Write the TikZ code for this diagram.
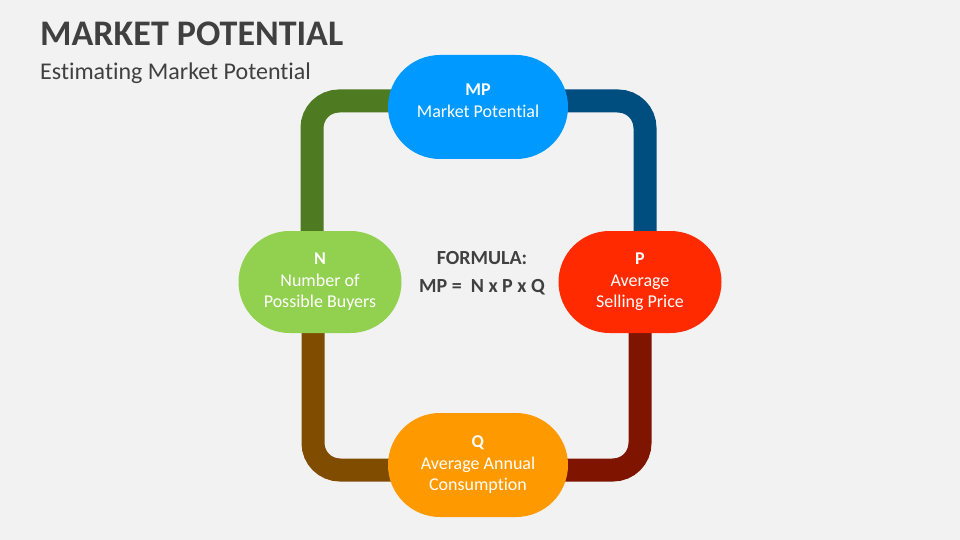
\documentclass[tikz,border=0pt]{standalone}
\usepackage{fontspec}
\setmainfont{Carlito}[Ligatures=NoCommon]
\usetikzlibrary{positioning,backgrounds,shapes.misc}
\definecolor{pagebg}{HTML}{F2F2F2}
\definecolor{textgray}{HTML}{404040}
\definecolor{mpblue}{HTML}{0099FF}
\definecolor{pred}{HTML}{FF2A00}
\definecolor{qorange}{HTML}{FF9900}
\definecolor{ngreen}{HTML}{92D050}
\definecolor{greenline}{HTML}{4E7A21}
\definecolor{blueline}{HTML}{004E80}
\definecolor{redline}{HTML}{7F1400}
\definecolor{brownline}{HTML}{7F4C00}
\tikzset{
    pill/.style = {rounded rectangle, inner sep=0pt,
        minimum height=102pt,
        minimum width=163pt, align=center, text=white,
        font=\fontsize{18}{21.5}\selectfont},
    bigpill/.style = {pill, minimum height=104pt, minimum width=180pt},
    loopline/.style = {line width=23pt, rounded corners=27pt},
    heading/.style = {anchor=base west, inner sep=0pt, text=textgray}
}

\begin{document}
\begin{tikzpicture}[x=1pt,y=-1pt]
        \useasboundingbox (0,0) rectangle (960,540);
        \node [heading,font=\fontsize{36}{40}\selectfont\bfseries] (title) at (40,46) {MARKET POTENTIAL};
        \node [heading,font=\fontsize{24}{28}\selectfont] (subtitle) at (40,80) {Estimating Market Potential};
        \node [bigpill,fill=mpblue,text depth=13pt] (mp) at (478,107) {\textbf{MP}\\Market Potential};
        \node [pill,fill=ngreen,on grid,below left=175pt and 158pt of mp] (n) {\textbf{N}\\Number of\\Possible Buyers};
        \node [pill,fill=pred,on grid,below right=175pt and 162pt of mp] (p) {\textbf{P}\\Average\\Selling Price};
        \node [bigpill,fill=qorange,on grid,below=358pt of mp] (q) {\textbf{Q}\\Average Annual\\Consumption};
        \node [align=center,text=textgray,font=\fontsize{20}{28}\selectfont\bfseries] (formula) at (482,273) {FORMULA:\\MP =~~N x P x Q};
        \begin{scope}[on background layer]
            \fill [pagebg] (0,0) rectangle (960,540);
            \draw [loopline,greenline] ([xshift=-8pt]n.center) |- ([yshift=6pt]mp.center);
            \draw [loopline,blueline] ([xshift=5pt]p.center) |- ([yshift=6pt]mp.center);
            \draw [loopline,brownline] ([xshift=-7pt]n.center) |- ([yshift=-5pt]q.center);
            \draw [loopline,redline] (p.center) |- ([yshift=-5pt]q.center);
        \end{scope}
    \end{tikzpicture}
\end{document}
